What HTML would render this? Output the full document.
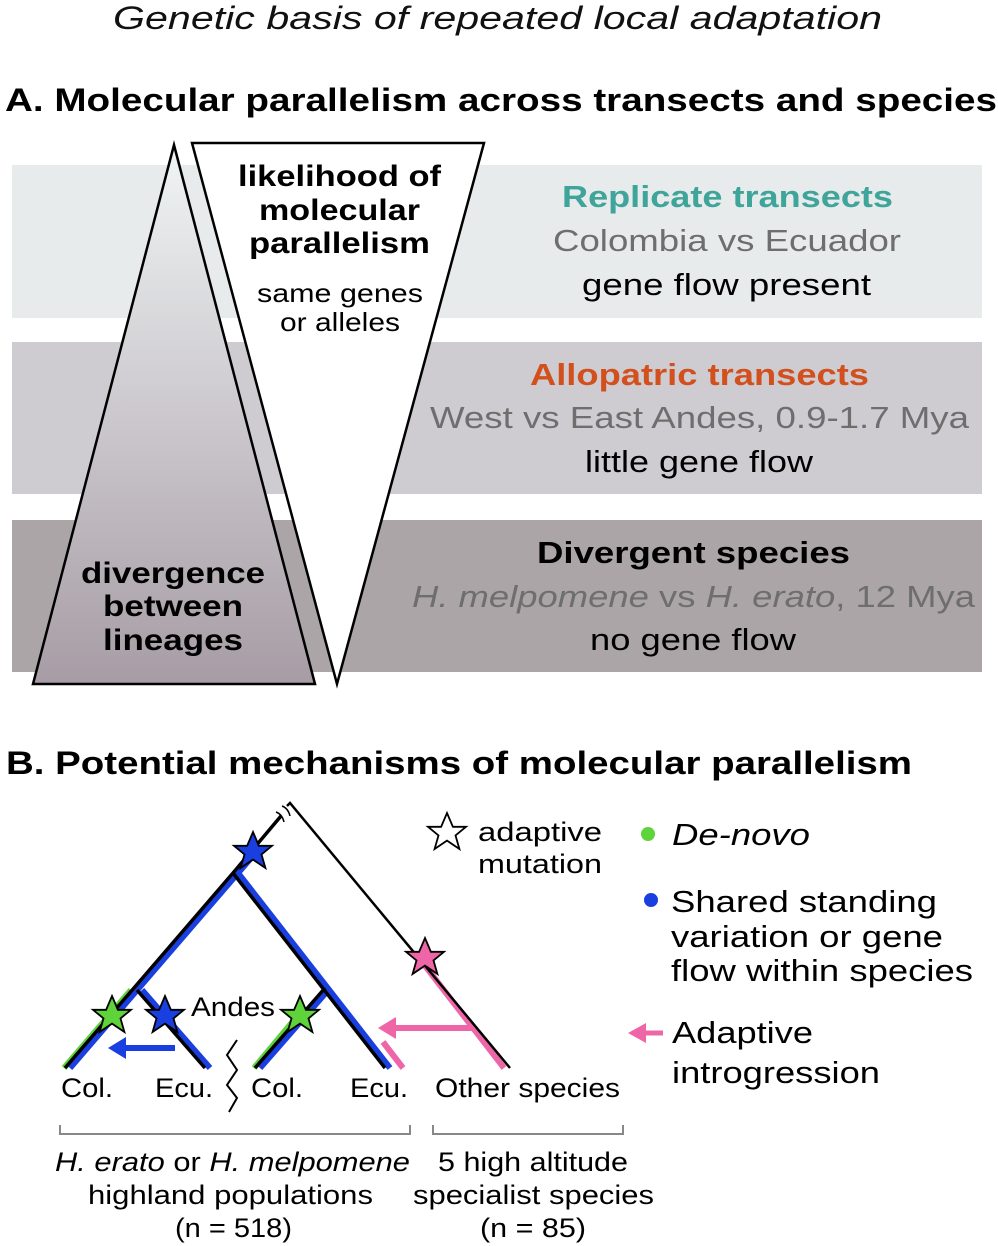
<!DOCTYPE html>
<html><head><meta charset="utf-8"><style>
body{margin:0;background:#fff}
svg{display:block;font-family:"Liberation Sans",Arial,sans-serif}
</style></head><body>
<svg width="998" height="1246" viewBox="0 0 998 1246" xmlns="http://www.w3.org/2000/svg">
<defs>
<linearGradient id="g" x1="0" y1="0" x2="0" y2="1">
<stop offset="0" stop-color="#f0f5f5"/><stop offset="1" stop-color="#a79ca5"/>
</linearGradient>
<polygon id="st" points="0,-20 5.9,-6.2 19,-6.2 8.5,2.4 12.4,16 0,7.6 -12.4,16 -8.5,2.4 -19,-6.2 -5.9,-6.2"/>
</defs>
<text x="113" y="29" font-size="32" font-style="italic" fill="#111" textLength="769" lengthAdjust="spacingAndGlyphs">Genetic basis of repeated local adaptation</text>
<text x="5" y="111" font-size="32" font-weight="bold" fill="#000" textLength="992" lengthAdjust="spacingAndGlyphs">A. Molecular parallelism across transects and species</text>
<rect x="12" y="165" width="970" height="153" fill="#e8ebec"/>
<rect x="12" y="342" width="970" height="152" fill="#cfccd1"/>
<rect x="12" y="520" width="970" height="152" fill="#aba5a8"/>
<polygon points="174,145 33,684 315,684" fill="url(#g)" stroke="#000" stroke-width="2.5"/>
<polygon points="192,143 484,143 337,684" fill="#fff" stroke="#000" stroke-width="2.5"/>
<g font-size="30" font-weight="bold" fill="#000">
<text x="238" y="186" textLength="203" lengthAdjust="spacingAndGlyphs">likelihood of</text>
<text x="259" y="220" textLength="161" lengthAdjust="spacingAndGlyphs">molecular</text>
<text x="249" y="253" textLength="181" lengthAdjust="spacingAndGlyphs">parallelism</text>
<text x="81" y="583" textLength="184" lengthAdjust="spacingAndGlyphs">divergence</text>
<text x="103" y="616" textLength="140" lengthAdjust="spacingAndGlyphs">between</text>
<text x="103" y="650" textLength="140" lengthAdjust="spacingAndGlyphs">lineages</text>
</g>
<g font-size="26" fill="#000">
<text x="257" y="302" textLength="166" lengthAdjust="spacingAndGlyphs">same genes</text>
<text x="280" y="331" textLength="120" lengthAdjust="spacingAndGlyphs">or alleles</text>
</g>
<g font-size="31">
<text x="562" y="207" font-weight="bold" fill="#3fa49a" textLength="331" lengthAdjust="spacingAndGlyphs">Replicate transects</text>
<text x="553" y="251" fill="#6e6e6e" textLength="348" lengthAdjust="spacingAndGlyphs">Colombia vs Ecuador</text>
<text x="582" y="295" fill="#000" textLength="289" lengthAdjust="spacingAndGlyphs">gene flow present</text>
<text x="530" y="385" font-weight="bold" fill="#d2501d" textLength="339" lengthAdjust="spacingAndGlyphs">Allopatric transects</text>
<text x="430" y="428" fill="#6e6e6e" textLength="539" lengthAdjust="spacingAndGlyphs">West vs East Andes, 0.9-1.7 Mya</text>
<text x="585" y="472" fill="#000" textLength="228" lengthAdjust="spacingAndGlyphs">little gene flow</text>
<text x="537" y="563" font-weight="bold" fill="#000" textLength="313" lengthAdjust="spacingAndGlyphs">Divergent species</text>
<text x="412" y="607" fill="#6e6e6e" textLength="563" lengthAdjust="spacingAndGlyphs"><tspan font-style="italic">H. melpomene</tspan> vs <tspan font-style="italic">H. erato</tspan>, 12 Mya</text>
<text x="590" y="650" fill="#000" textLength="206" lengthAdjust="spacingAndGlyphs">no gene flow</text>
</g>
<text x="6" y="774" font-size="32" font-weight="bold" fill="#000" textLength="906" lengthAdjust="spacingAndGlyphs">B. Potential mechanisms of molecular parallelism</text>
<g stroke-width="6" fill="none" stroke-linecap="butt">
<line x1="70" y1="1068" x2="137" y2="990" stroke="#5fd33a" transform="translate(-6,0)"/>
<line x1="260" y1="1068" x2="300" y2="1020" stroke="#5fd33a" transform="translate(-6,0)"/>
<g stroke="#1a3fe0" transform="translate(5,0)">
<polyline points="65,1068 233,873 253,850"/>
<polyline points="233,873 385,1068"/>
<polyline points="137,990 205,1068"/>
<polyline points="255,1068 325,988"/>
</g>
<line x1="425" y1="958" x2="510" y2="1068" stroke="#ee66a8" transform="translate(-6,0)"/>
<line x1="383" y1="1042" x2="403" y2="1068" stroke="#ee66a8"/>
<line x1="472" y1="1028" x2="395" y2="1028" stroke="#ee66a8"/>
<line x1="175" y1="1048" x2="125" y2="1048" stroke="#1a3fe0"/>
</g>
<polygon points="378,1028 396,1017 396,1039" fill="#ee66a8"/>
<polygon points="108,1048 126,1037 126,1059" fill="#1a3fe0"/>
<g stroke="#000" stroke-width="3.5" fill="none">
<polyline points="65,1068 233,873 281,816"/>
<polyline points="287,806 290,803 510,1068" stroke-width="2.5"/>
<polyline points="233,873 385,1068"/>
<polyline points="137,990 205,1068"/>
<polyline points="255,1068 325,988"/>
<path d="M276,812 q6,2 8,10 M282,806 q6,2 8,10" stroke-width="1.5"/>
<polyline points="237,1040 227,1055 237,1070 227,1085 237,1098 229,1112" stroke-width="2"/>
</g>
<g stroke="#000" stroke-width="1.8">
<use href="#st" x="253" y="852" fill="#1a3fe0"/>
<use href="#st" x="112" y="1016" fill="#5fd33a"/>
<use href="#st" x="165" y="1016" fill="#1a3fe0"/>
<use href="#st" x="300" y="1016" fill="#5fd33a"/>
<use href="#st" x="425" y="958" fill="#ee66a8"/>
<use href="#st" x="447" y="833" fill="#fff"/>
</g>
<g font-size="27" fill="#000">
<text x="191" y="1016" textLength="84" lengthAdjust="spacingAndGlyphs">Andes</text>
<text x="61" y="1097" textLength="52" lengthAdjust="spacingAndGlyphs">Col.</text>
<text x="155" y="1097" textLength="58" lengthAdjust="spacingAndGlyphs">Ecu.</text>
<text x="251" y="1097" textLength="52" lengthAdjust="spacingAndGlyphs">Col.</text>
<text x="350" y="1097" textLength="58" lengthAdjust="spacingAndGlyphs">Ecu.</text>
<text x="435" y="1097" textLength="185" lengthAdjust="spacingAndGlyphs">Other species</text>
<text x="478" y="841" textLength="124" lengthAdjust="spacingAndGlyphs">adaptive</text>
<text x="478" y="873" textLength="124" lengthAdjust="spacingAndGlyphs">mutation</text>
</g>
<circle cx="648" cy="834" r="7" fill="#5fd33a"/>
<circle cx="651" cy="900" r="7" fill="#1a3fe0"/>
<line x1="646" y1="1033" x2="663" y2="1033" stroke="#ee66a8" stroke-width="5"/>
<polygon points="628,1033 646,1023 646,1043" fill="#ee66a8"/>
<g font-size="31" fill="#000">
<text x="672" y="845" font-style="italic" textLength="138" lengthAdjust="spacingAndGlyphs">De-novo</text>
<text x="671" y="912" textLength="266" lengthAdjust="spacingAndGlyphs">Shared standing</text>
<text x="671" y="947" textLength="272" lengthAdjust="spacingAndGlyphs">variation or gene</text>
<text x="671" y="981" textLength="302" lengthAdjust="spacingAndGlyphs">flow within species</text>
<text x="672" y="1043" textLength="141" lengthAdjust="spacingAndGlyphs">Adaptive</text>
<text x="672" y="1083" textLength="208" lengthAdjust="spacingAndGlyphs">introgression</text>
</g>
<g stroke="#888" stroke-width="2" fill="none">
<polyline points="60,1125 60,1134 410,1134 410,1125"/>
<polyline points="433,1125 433,1134 623,1134 623,1125"/>
</g>
<g font-size="27" fill="#000">
<text x="55" y="1171" textLength="355" lengthAdjust="spacingAndGlyphs"><tspan font-style="italic">H. erato</tspan> or <tspan font-style="italic">H. melpomene</tspan></text>
<text x="88" y="1204" textLength="285" lengthAdjust="spacingAndGlyphs">highland populations</text>
<text x="175" y="1237" textLength="117" lengthAdjust="spacingAndGlyphs">(n = 518)</text>
<text x="438" y="1171" textLength="190" lengthAdjust="spacingAndGlyphs">5 high altitude</text>
<text x="413" y="1204" textLength="241" lengthAdjust="spacingAndGlyphs">specialist species</text>
<text x="480" y="1237" textLength="106" lengthAdjust="spacingAndGlyphs">(n = 85)</text>
</g>
</svg>
</body></html>
